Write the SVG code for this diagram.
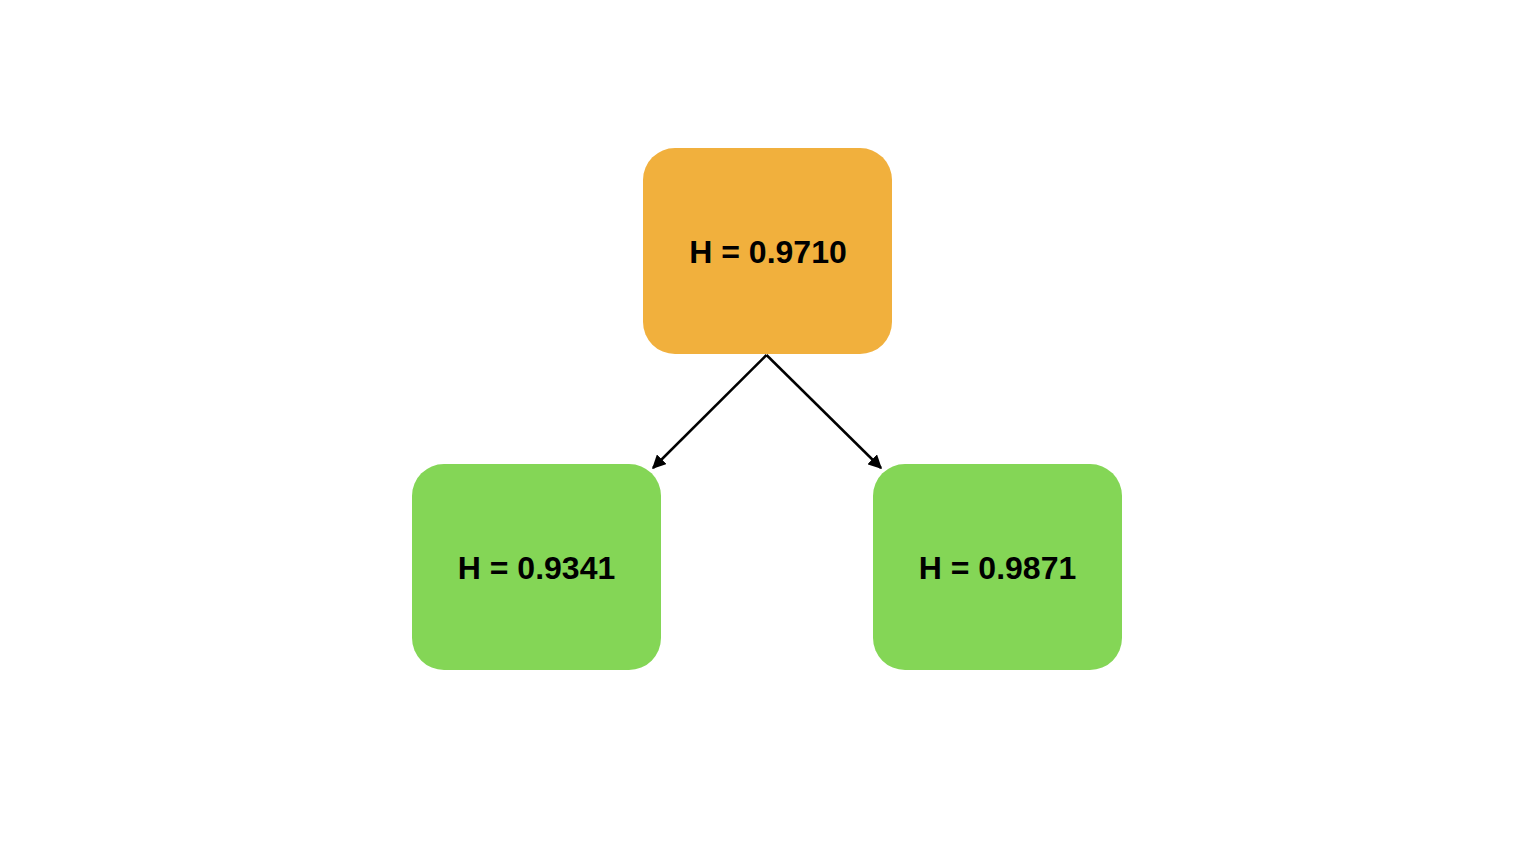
<svg xmlns="http://www.w3.org/2000/svg" width="1536" height="864" viewBox="0 0 1536 864">
<style>
.box{stroke:none}
.orange{fill:#F1B03D}
.green{fill:#84D656}
.lbl{font-family:"Liberation Sans",Arial,sans-serif;font-weight:bold;font-size:32px;fill:#000;text-anchor:middle}
.edge{stroke:#000;stroke-width:2.5;fill:none}
</style>
<defs>
<marker id="arr" viewBox="0 0 10 10" refX="9" refY="5" markerWidth="5.5" markerHeight="5.5" markerUnits="strokeWidth" orient="auto">
<path d="M0,0 L10,5 L0,10 Z" fill="#000"/>
</marker>
</defs>
<rect width="1536" height="864" fill="#fff"/>
<g id="connectors">
<line class="edge" x1="766.5" y1="355" x2="653" y2="468" marker-end="url(#arr)"/>
<line class="edge" x1="766.5" y1="355" x2="881" y2="468" marker-end="url(#arr)"/>
</g>
<g id="node-root">
<rect class="box orange" x="643" y="148" width="249" height="206" rx="32" ry="32"/>
<text class="lbl" x="768" y="262.5">H = 0.9710</text>
</g>
<g id="node-left">
<rect class="box green" x="412" y="464" width="249" height="206" rx="32" ry="32"/>
<text class="lbl" x="536.5" y="579">H = 0.9341</text>
</g>
<g id="node-right">
<rect class="box green" x="873" y="464" width="249" height="206" rx="32" ry="32"/>
<text class="lbl" x="997.5" y="579">H = 0.9871</text>
</g>
</svg>
